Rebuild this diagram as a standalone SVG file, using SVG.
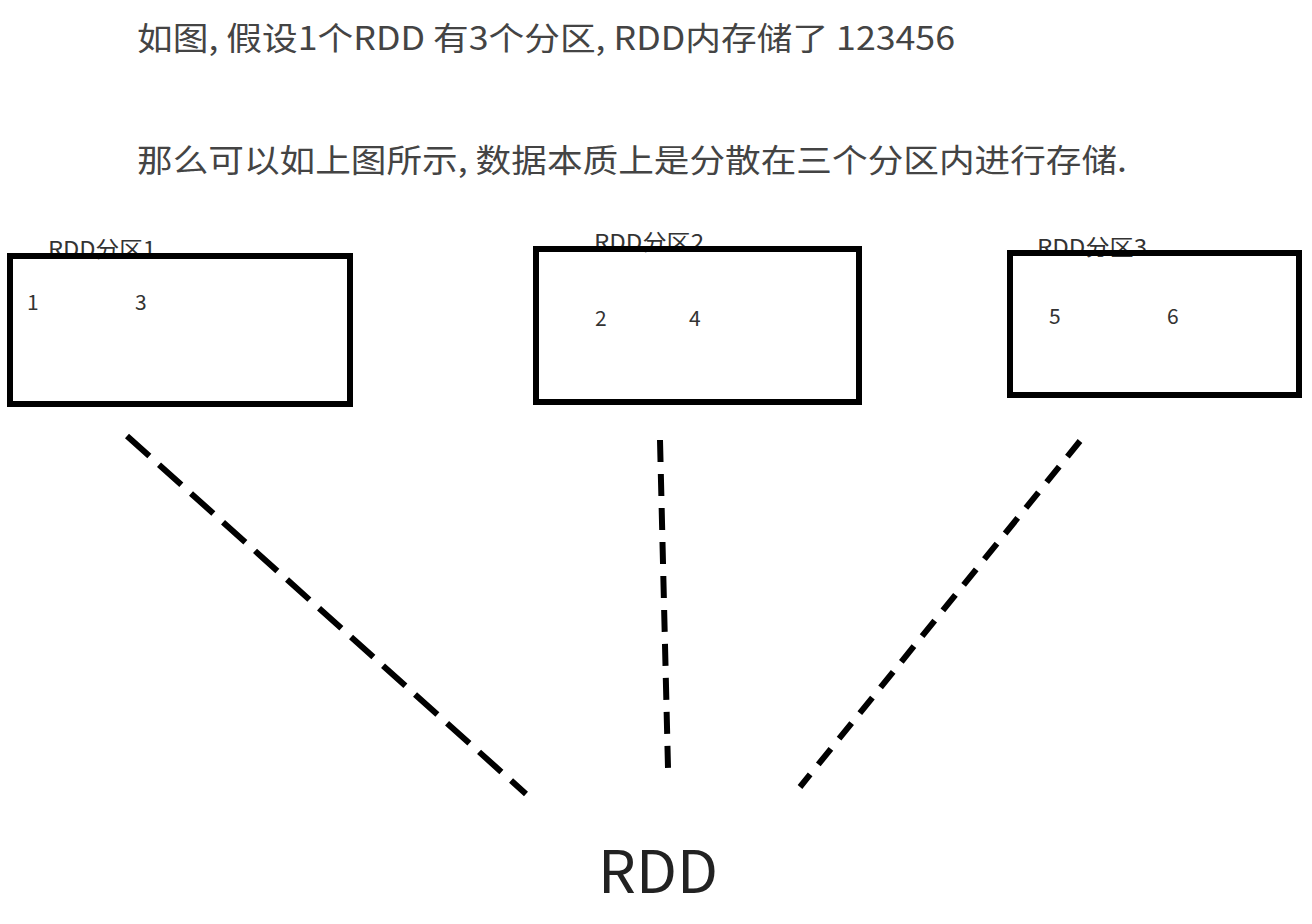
<svg xmlns="http://www.w3.org/2000/svg" width="1312" height="924" viewBox="0 0 1312 924">
  <style>
    .note { font-family: "Noto Sans CJK SC", "Liberation Sans", sans-serif; font-size: 32px; fill: #444; }
    .label { font-family: "Noto Sans CJK SC", "Liberation Sans", sans-serif; font-size: 22px; fill: #333; }
    .num { font-family: "Noto Sans CJK SC", "Liberation Sans", sans-serif; font-size: 21px; fill: #333; }
    .box { fill: none; stroke: #000; stroke-width: 6; }
    .link { stroke: #000; stroke-width: 6; fill: none; }
    .title { font-family: "Noto Sans CJK SC", "Liberation Sans", sans-serif; font-size: 58px; fill: #222; }
  </style>
  <rect width="1312" height="924" fill="#fff"/>

  <!-- explanatory notes -->
  <text class="note" x="137" y="50" textLength="818" lengthAdjust="spacingAndGlyphs">如图, 假设1个RDD 有3个分区, RDD内存储了 123456</text>
  <text class="note" x="137" y="172" textLength="990" lengthAdjust="spacingAndGlyphs">那么可以如上图所示, 数据本质上是分散在三个分区内进行存储.</text>

  <!-- partitions: caption drawn first so the frame overlaps its foot -->
  <g id="partition1">
    <text class="label" x="48" y="257" textLength="108" lengthAdjust="spacingAndGlyphs">RDD分区1</text>
    <rect class="box" x="10" y="256" width="340" height="148"/>
    <text class="num" x="27" y="310">1</text>
    <text class="num" x="135" y="310">3</text>
  </g>
  <g id="partition2">
    <text class="label" x="594" y="250" textLength="110" lengthAdjust="spacingAndGlyphs">RDD分区2</text>
    <rect class="box" x="536" y="249" width="323" height="153"/>
    <text class="num" x="595" y="326">2</text>
    <text class="num" x="689" y="326">4</text>
  </g>
  <g id="partition3">
    <text class="label" x="1037" y="255" textLength="110" lengthAdjust="spacingAndGlyphs">RDD分区3</text>
    <rect class="box" x="1010" y="253" width="289" height="142"/>
    <text class="num" x="1049" y="324">5</text>
    <text class="num" x="1167" y="324">6</text>
  </g>

  <!-- dashed links from each partition to the RDD -->
  <g id="connectors">
    <line class="link" x1="127" y1="436" x2="526" y2="794" stroke-dasharray="30 13"/>
    <line class="link" x1="660" y1="440" x2="668" y2="768" stroke-dasharray="22 12"/>
    <line class="link" x1="1080" y1="441" x2="800" y2="787" stroke-dasharray="20 13"/>
  </g>

  <g id="rdd">
    <text class="title" x="598" y="893" textLength="120" lengthAdjust="spacingAndGlyphs">RDD</text>
  </g>
</svg>
